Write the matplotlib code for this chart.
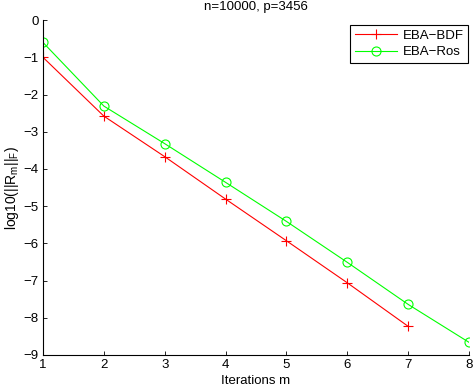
import matplotlib
matplotlib.use("Agg")
import matplotlib.pyplot as plt

iters_bdf = [1, 2, 3, 4, 5, 6, 7]
bdf = [-1.0, -2.58, -3.67, -4.81, -5.93, -7.06, -8.23]
iters_ros = [1, 2, 3, 4, 5, 6, 7, 8]
ros = [-0.60, -2.31, -3.32, -4.36, -5.41, -6.51, -7.64, -8.66]
xticks = [1, 2, 3, 4, 5, 6, 7, 8]
yticks = [0, -1, -2, -3, -4, -5, -6, -7, -8, -9]

plt.rcParams['font.family'] = ['Liberation Sans', 'DejaVu Sans']
plt.rcParams['font.size'] = 9.5

fig = plt.figure(figsize=(4.74, 3.87), dpi=100)
ax = fig.add_axes([0.0907, 0.0827, 0.8988, 0.8653])
ax.plot(iters_bdf, bdf, color=(1, 0, 0), marker='+', ms=6.5, mew=0.8, lw=0.8, label='EBA\u2212BDF')
ax.plot(iters_ros, ros, color=(0, 1, 0), marker='o', ms=6.5, mfc='none', mew=0.8, lw=0.8, label='EBA\u2212Ros')
ax.set_xlim(1, 8)
ax.set_ylim(-9, 0)
ax.set_xticks(xticks)
ax.set_yticks(yticks)
ax.set_yticklabels([str(v).replace('-', '\u2212') for v in yticks])
ax.tick_params(direction='in', length=3, width=0.6, labelsize=9.5, pad=3)
for s in ['top', 'right']:
    ax.spines[s].set_visible(False)
for s in ['left', 'bottom']:
    ax.spines[s].set_linewidth(0.8)
ax.set_title('n=10000, p=3456', fontsize=9.5, pad=7)
ax.set_xlabel('Iterations m', fontsize=9.5, labelpad=3)
ax.set_ylabel(r'log10(||R$_\mathregular{m}$||$_\mathregular{F}$)', fontsize=10, labelpad=2)
leg = ax.legend(loc='upper right', bbox_to_anchor=(0.998, 0.985), fontsize=9.5, fancybox=False,
                edgecolor='black', framealpha=1, borderpad=0.35, handlelength=3.2, labelspacing=0.3,
                handletextpad=0.4, borderaxespad=0)
leg.get_frame().set_linewidth(0.8)
fig.savefig('out.png', dpi=100)
